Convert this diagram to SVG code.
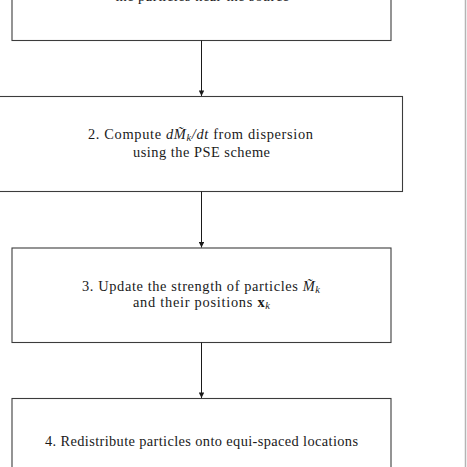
<svg xmlns="http://www.w3.org/2000/svg" width="467" height="467" viewBox="0 0 467 467">
<defs>
<style>
.box{fill:#fff;stroke:#3c3c3c;stroke-width:1.1}
.t{font-family:"Liberation Serif","DejaVu Serif",serif;font-size:14.4px;fill:#1a1a1a;text-anchor:middle}
.m{font-style:italic}
.s{font-style:italic;font-size:10.5px}
.c{stroke:#1a1a1a;stroke-width:1;fill:none}
</style>
<marker id="ah" viewBox="0 0 10 10" refX="10" refY="5" markerWidth="6" markerHeight="5.5" markerUnits="userSpaceOnUse" orient="auto">
<path d="M0,0 L10,5 L0,10 z" fill="#1a1a1a"/>
</marker>
</defs>
<rect x="0" y="0" width="467" height="467" fill="#fff"/>
<line x1="465.5" y1="0" x2="465.5" y2="467" stroke="#b4b4b4" stroke-width="1.5"/>
<g id="node1">
<rect class="box" x="12" y="-60" width="379" height="100.5"/>
<text class="t" x="202" y="1" textLength="174" lengthAdjust="spacing">the particles near the source</text>
</g>
<g id="node2">
<rect class="box" x="-2" y="96.5" width="404.5" height="95"/>
<text class="t" x="200.5" y="139" textLength="225" lengthAdjust="spacing">2. Compute <tspan class="m">dM̃</tspan><tspan class="s" dy="2">k</tspan><tspan class="m" dy="-2">/dt</tspan> from dispersion</text>
<text class="t" x="201.5" y="156.5" textLength="137" lengthAdjust="spacing">using the PSE scheme</text>
</g>
<g id="node3">
<rect class="box" x="12" y="248" width="379" height="94.5"/>
<text class="t" x="201" y="291" textLength="238" lengthAdjust="spacing">3. Update the strength of particles <tspan class="m">M̃</tspan><tspan class="s" dy="2">k</tspan></text>
<text class="t" x="201.5" y="307" textLength="137" lengthAdjust="spacing">and their positions <tspan font-weight="bold">x</tspan><tspan class="s" dy="2">k</tspan></text>
</g>
<g id="node4">
<rect class="box" x="12" y="398.5" width="379" height="100"/>
<text class="t" x="201.5" y="446" textLength="313" lengthAdjust="spacing">4. Redistribute particles onto equi-spaced locations</text>
</g>
<g id="connectors">
<line class="c" x1="201.5" y1="40.5" x2="201.5" y2="96" marker-end="url(#ah)"/>
<line class="c" x1="201.5" y1="191.5" x2="201.5" y2="247.5" marker-end="url(#ah)"/>
<line class="c" x1="201.5" y1="342.5" x2="201.5" y2="398" marker-end="url(#ah)"/>
</g>
</svg>
